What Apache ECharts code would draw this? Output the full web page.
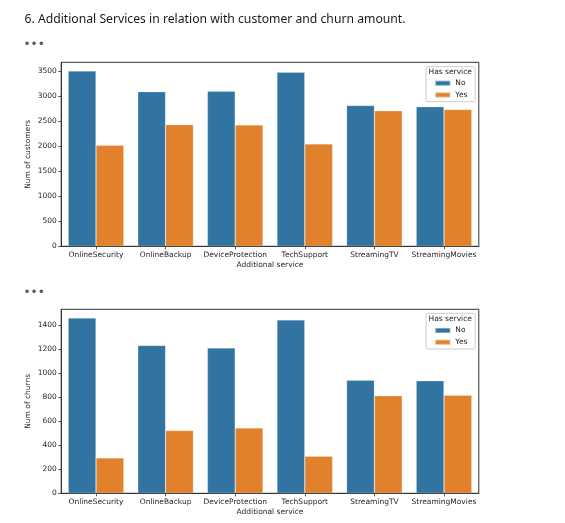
<!DOCTYPE html>
<html>
<head>
<meta charset="utf-8">
<script src="https://cdn.jsdelivr.net/npm/echarts@6/dist/echarts.min.js"></script>
<style>
html,body{margin:0;padding:0;background:#fff;}
#chart{width:565px;height:523px;}
</style>
</head>
<body>
<div id="chart"></div>
<script>
const categories = ['OnlineSecurity','OnlineBackup','DeviceProtection','TechSupport','StreamingTV','StreamingMovies'];
const customersNo = [3498, 3088, 3095, 3473, 2810, 2785];
const customersYes = [2019, 2429, 2422, 2044, 2707, 2732];
const churnNo = [1461, 1233, 1211, 1446, 942, 938];
const churnYes = [295, 523, 545, 310, 814, 818];
const customerTicks = [0, 500, 1000, 1500, 2000, 2500, 3000, 3500];
const churnTicks = [0, 200, 400, 600, 800, 1000, 1200, 1400];
const seriesNames = ['No', 'Yes'];
const legendTitle = 'Has service';
const pageTitle = '6. Additional Services in relation with customer and churn amount.';
const xName = 'Additional service';
const yNames = ['Num of customers', 'Num of churns'];

const BLUE = '#3274a1', ORANGE = '#e1812c', TXT = '#262626', SPINE = '#333333';
const FONT = 'DejaVu Sans';
const FS = 7.5;

const gridTops = [62.3, 309.3];
const gridH = 184;
const gridL = 61.2, gridW = 417.6;

function makeX(i) {
  return {
    type: 'category', gridIndex: i, data: categories,
    name: xName, nameLocation: 'middle', nameGap: 15, nameMoveOverlap: false,
    nameTextStyle: {fontFamily: FONT, fontSize: FS, color: TXT},
    axisLine: {show: true, lineStyle: {color: SPINE, width: 1}},
    axisTick: {show: true, alignWithLabel: true, length: 3, lineStyle: {color: SPINE, width: 0.8}},
    axisLabel: {fontFamily: FONT, fontSize: FS, color: TXT, margin: 5, interval: 0},
    splitLine: {show: false}
  };
}
function makeY(i, max, ticks) {
  return {
    type: 'value', gridIndex: i, min: 0, max: max,
    name: yNames[i], nameLocation: 'middle', nameGap: 29, nameMoveOverlap: false,
    nameTextStyle: {fontFamily: FONT, fontSize: FS, color: TXT},
    axisLine: {show: true, lineStyle: {color: SPINE, width: 1}},
    axisTick: {show: true, length: 3, customValues: ticks, lineStyle: {color: SPINE, width: 0.8}},
    axisLabel: {fontFamily: FONT, fontSize: FS, color: TXT, margin: 4.4, customValues: ticks, formatter: v => String(v)},
    splitLine: {show: false}
  };
}
function makeBar(name, data, color, i) {
  return {
    type: 'bar', name: name, data: data, xAxisIndex: i, yAxisIndex: i,
    barGap: '0%', barCategoryGap: '20%',
    itemStyle: {color: color, borderColor: 'rgba(255,255,255,0.35)', borderWidth: 0.6},
    emphasis: {disabled: true}, animation: false, z: 2
  };
}
const legendBoxes = [
  {y: 66.7, h: 35, titleY: 71.7, legendTop: 78.7},
  {y: 313.3, h: 35.7, titleY: 319, legendTop: 326}
];

const graphics = [
  {type: 'text', style: {text: pageTitle, x: 24.5, y: 19.3, fontFamily: 'Noto Sans', fontSize: 12.2, fill: '#1a1a1a', verticalAlign: 'middle', align: 'left'}},
  {type: 'text', style: {text: '•••', x: 23.5, y: 44.5, fontFamily: 'DejaVu Sans', fontSize: 12, fill: '#5a5a5a', verticalAlign: 'middle', align: 'left'}},
  {type: 'text', style: {text: '•••', x: 23.5, y: 293.2, fontFamily: 'DejaVu Sans', fontSize: 12, fill: '#5a5a5a', verticalAlign: 'middle', align: 'left'}}
];
legendBoxes.forEach(b => {
  graphics.push({type: 'rect', z: 10, shape: {x: 426, y: b.y, width: 49.2, height: b.h, r: 2}, style: {fill: 'rgba(255,255,255,0.85)', stroke: '#cccccc', lineWidth: 1}});
  graphics.push({type: 'text', z: 11, style: {text: legendTitle, x: 450.2, y: b.titleY, fontFamily: FONT, fontSize: FS, fill: TXT, align: 'center', verticalAlign: 'middle'}});
});

const chart = echarts.init(document.getElementById('chart'), null, {renderer: 'canvas'});
chart.setOption({
  backgroundColor: '#ffffff',
  animation: false,
  graphic: graphics,
  grid: gridTops.map(t => ({left: gridL, top: t, width: gridW, height: gridH, show: true, borderColor: SPINE, borderWidth: 1, backgroundColor: 'transparent', containLabel: false})),
  xAxis: [makeX(0), makeX(1)],
  yAxis: [makeY(0, 3673, customerTicks), makeY(1, 1534, churnTicks)],
  legend: legendBoxes.map(b => ({
    data: seriesNames, orient: 'vertical', left: 434.3, top: b.legendTop, padding: 0,
    itemWidth: 15, itemHeight: 5, itemGap: 2.7, icon: 'rect', z: 20,
    textStyle: {fontFamily: FONT, fontSize: FS, color: TXT, lineHeight: 9},
    selectedMode: false
  })),
  series: [
    makeBar(seriesNames[0], customersNo, BLUE, 0),
    makeBar(seriesNames[1], customersYes, ORANGE, 0),
    makeBar(seriesNames[0], churnNo, BLUE, 1),
    makeBar(seriesNames[1], churnYes, ORANGE, 1)
  ]
});
</script>
</body>
</html>
